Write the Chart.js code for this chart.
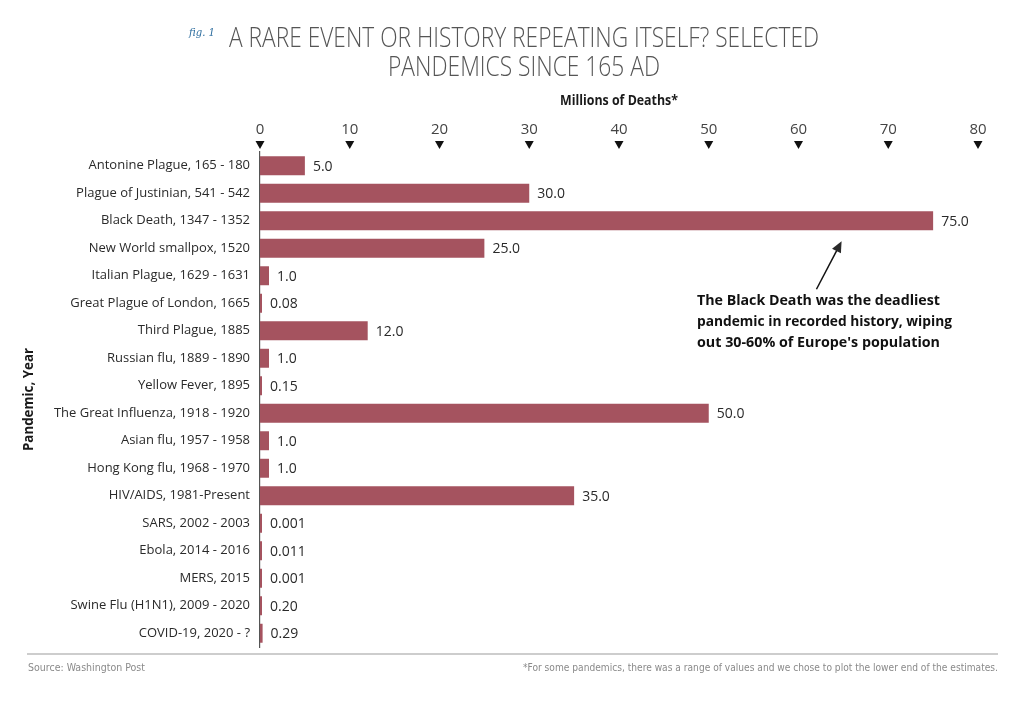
<!DOCTYPE html>
<html>
<head>
<meta charset="utf-8">
<script src="https://cdn.jsdelivr.net/npm/chart.js@4.4.1/dist/chart.umd.min.js"></script>
<style>
  html, body { margin: 0; padding: 0; background: #fff; }
  #wrap { width: 1024px; height: 702px; }
</style>
</head>
<body>
<div id="wrap"><canvas id="pandemics"></canvas></div>
<script>
// data
const pandemics = [
    'Antonine Plague, 165 - 180',
    'Plague of Justinian, 541 - 542',
    'Black Death, 1347 - 1352',
    'New World smallpox, 1520',
    'Italian Plague, 1629 - 1631',
    'Great Plague of London, 1665',
    'Third Plague, 1885',
    'Russian flu, 1889 - 1890',
    'Yellow Fever, 1895',
    'The Great Influenza, 1918 - 1920',
    'Asian flu, 1957 - 1958',
    'Hong Kong flu, 1968 - 1970',
    'HIV/AIDS, 1981-Present',
    'SARS, 2002 - 2003',
    'Ebola, 2014 - 2016',
    'MERS, 2015',
    'Swine Flu (H1N1), 2009 - 2020',
    'COVID-19, 2020 - ?'
];
const deaths = [5, 30, 75, 25, 1, 0.08, 12, 1, 0.15, 50, 1, 1, 35, 0.001, 0.011, 0.001, 0.20, 0.29];
const deathLabels = ['5.0', '30.0', '75.0', '25.0', '1.0', '0.08', '12.0', '1.0', '0.15', '50.0',
    '1.0', '1.0', '35.0', '0.001', '0.011', '0.001', '0.20', '0.29'];
const xTicks = [0, 10, 20, 30, 40, 50, 60, 70, 80];

const titleLines = ['A RARE EVENT OR HISTORY REPEATING ITSELF? SELECTED', 'PANDEMICS SINCE 165 AD'];
const noteLines = ['The Black Death was the deadliest', 'pandemic in recorded history, wiping', "out 30-60% of Europe's population"];

const barColor = '#a5535f';
const narrow = '"Liberation Sans Narrow", "DejaVu Sans Condensed", sans-serif';

// squeeze text horizontally if it is wider than maxW
function fitText(ctx, text, x, y, maxW) {
    const w = ctx.measureText(text).width;
    if (!maxW || w <= maxW) { ctx.fillText(text, x, y); return; }
    ctx.save();
    ctx.translate(x, y);
    ctx.scale(maxW / w, 1);
    ctx.fillText(text, 0, 0);
    ctx.restore();
}

const decor = {
    id: 'decor',
    afterDraw: function (chart) {
        const ctx = chart.ctx;
        const xs = chart.scales.x;
        const area = chart.chartArea;
        ctx.save();

        // title
        ctx.fillStyle = '#555';
        ctx.textBaseline = 'alphabetic';
        ctx.textAlign = 'center';
        ctx.font = '300 28px "Open Sans", sans-serif';
        fitText(ctx, titleLines[0], 524, 47, 590);
        fitText(ctx, titleLines[1], 524, 76, 272);
        ctx.font = 'italic 11px "DejaVu Serif", serif';
        ctx.fillStyle = '#2d6d9e';
        ctx.textAlign = 'left';
        fitText(ctx, 'fig. 1', 189, 36, 26);

        // axis title
        ctx.fillStyle = '#1a1a1a';
        ctx.textAlign = 'center';
        ctx.font = 'bold 14px "Open Sans", sans-serif';
        fitText(ctx, 'Millions of Deaths*', (area.left + area.right) / 2, 105, 118);

        // tick triangles
        ctx.fillStyle = '#111';
        xTicks.forEach(function (t) {
            const px = xs.getPixelForValue(t);
            ctx.beginPath();
            ctx.moveTo(px - 4.5, 141);
            ctx.lineTo(px + 4.5, 141);
            ctx.lineTo(px, 149);
            ctx.closePath();
            ctx.fill();
        });

        // y axis title
        ctx.save();
        ctx.translate(33, (area.top + area.bottom) / 2);
        ctx.rotate(-Math.PI / 2);
        ctx.textAlign = 'center';
        ctx.fillStyle = '#1a1a1a';
        ctx.font = 'bold 15px "Open Sans", sans-serif';
        fitText(ctx, 'Pandemic, Year', 0, 0, 103);
        ctx.restore();

        // value labels
        const meta = chart.getDatasetMeta(0);
        ctx.font = '14px "Open Sans", sans-serif';
        ctx.fillStyle = '#2a2a2a';
        ctx.textAlign = 'left';
        ctx.textBaseline = 'middle';
        meta.data.forEach(function (bar, i) {
            ctx.fillText(deathLabels[i], bar.x + 8, bar.y + 1);
        });

        // annotation arrow to the Black Death bar
        const bd = meta.data[2];
        const tipX = xs.getPixelForValue(64.8);
        const tipY = bd.y + bd.height / 2 + 11;
        const tailX = xs.getPixelForValue(62), tailY = tipY + 48;
        const ang = Math.atan2(tipY - tailY, tipX - tailX);
        ctx.strokeStyle = '#111';
        ctx.lineWidth = 1.5;
        ctx.beginPath();
        ctx.moveTo(tailX, tailY);
        ctx.lineTo(tipX - 8 * Math.cos(ang), tipY - 8 * Math.sin(ang));
        ctx.stroke();
        ctx.beginPath();
        ctx.moveTo(tipX, tipY);
        ctx.lineTo(tipX - 11 * Math.cos(ang) + 5 * Math.sin(ang), tipY - 11 * Math.sin(ang) - 5 * Math.cos(ang));
        ctx.lineTo(tipX - 11 * Math.cos(ang) - 5 * Math.sin(ang), tipY - 11 * Math.sin(ang) + 5 * Math.cos(ang));
        ctx.closePath();
        ctx.fill();

        ctx.font = 'bold 14.5px "Open Sans", sans-serif';
        ctx.fillStyle = '#111';
        ctx.textBaseline = 'alphabetic';
        ctx.textAlign = 'left';
        fitText(ctx, noteLines[0], 697, 305, 243);
        fitText(ctx, noteLines[1], 697, 326, 255);
        fitText(ctx, noteLines[2], 697, 347, 243);

        // footer
        ctx.strokeStyle = '#bdbdbd';
        ctx.lineWidth = 1.5;
        ctx.beginPath();
        ctx.moveTo(27, 654);
        ctx.lineTo(998, 654);
        ctx.stroke();
        ctx.fillStyle = '#8a8a8a';
        ctx.font = '11px ' + narrow;
        ctx.textAlign = 'left';
        fitText(ctx, 'Source: Washington Post', 28, 671, 117);
        ctx.textAlign = 'right';
        fitText(ctx, '*For some pandemics, there was a range of values and we chose to plot the lower end of the estimates.', 998, 671, 475);

        ctx.restore();
    }
};

new Chart(document.getElementById('pandemics'), {
    type: 'bar',
    data: {
        labels: pandemics,
        datasets: [{
            data: deaths,
            backgroundColor: barColor,
            borderWidth: 0,
            minBarLength: 2,
            categoryPercentage: 1,
            barPercentage: 0.69
        }]
    },
    options: {
        indexAxis: 'y',
        responsive: true,
        maintainAspectRatio: false,
        animation: false,
        layout: { padding: { left: 0, right: 46, top: 0, bottom: 55 } },
        plugins: {
            legend: { display: false },
            tooltip: { enabled: false }
        },
        scales: {
            x: {
                position: 'top',
                min: 0,
                max: 80,
                afterBuildTicks: function (scale) {
                    scale.ticks = xTicks.map(function (v) { return { value: v }; });
                },
                afterFit: function (scale) { scale.height = 152; },
                grid: { display: false, drawTicks: false },
                border: { display: false },
                ticks: {
                    padding: 13,
                    color: '#444',
                    font: { family: '"Open Sans", sans-serif', size: 15 }
                }
            },
            y: {
                afterFit: function (scale) { scale.width = 260; },
                grid: { display: false, drawTicks: false },
                border: { display: true, color: '#555', width: 1.2 },
                ticks: {
                    padding: 10,
                    color: '#2a2a2a',
                    autoSkip: false,
                    font: { family: '"Open Sans", sans-serif', size: 13 }
                }
            }
        }
    },
    plugins: [decor]
});
</script>
</body>
</html>
